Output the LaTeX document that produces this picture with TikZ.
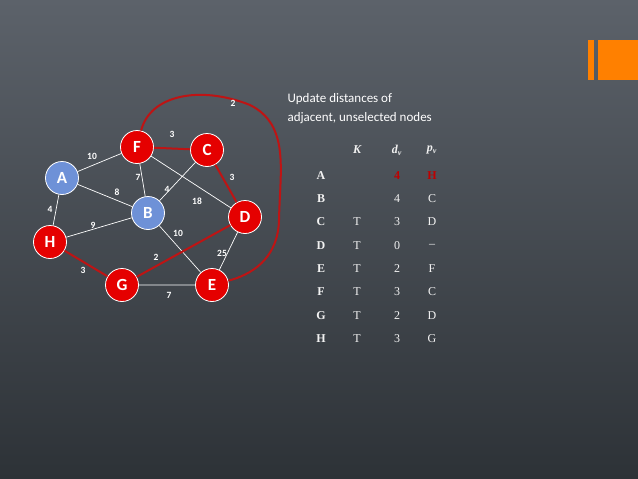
\documentclass[tikz,border=0pt]{standalone}
\usepackage{fontspec}
\setmainfont{Liberation Serif}
\newfontfamily\carl{Carlito}
\begin{document}
\begin{tikzpicture}[x=1pt,y=-1pt,
  vred/.style={circle,fill=red!90!black,draw=white,line width=0.8pt,minimum size=33pt,inner sep=0pt,font=\carl\bfseries\fontsize{17}{17}\selectfont,text=white},
  vblue/.style={vred,fill={rgb,255:red,110;green,145;blue,215}},
  wedge/.style={draw=white,line width=0.7pt},
  redge/.style={draw={rgb,255:red,190;green,20;blue,20},line width=2pt},
  lab/.style={font=\carl\bfseries\fontsize{9.5}{9.5}\selectfont,text=white},
  tb/.style={font=\fontsize{12}{12}\selectfont,text=white!95!black}]
\shade[top color={rgb,255:red,92;green,98;blue,106},bottom color={rgb,255:red,45;green,50;blue,55}] (0,0) rectangle (638,479);
\useasboundingbox (0,0) rectangle (638,479);
\fill[orange] (588,40) rectangle (594,80);
\fill[orange] (598,40) rectangle (638,80);
\node[vblue] (A) at (62,178) {A};
\node[vred] (F) at (137,147) {F};
\node[vred] (C) at (207,150) {C};
\node[vblue] (B) at (148,213) {B};
\node[vred] (D) at (245,217) {D};
\node[vred] (H) at (50,242) {H};
\node[vred] (G) at (122,285) {G};
\node[vred] (E) at (212,285) {E};
\path[wedge] (A)--(F) (A)--(B) (A)--(H) (F)--(B) (F)--(D) (C)--(B) (H)--(B) (B)--(E) (D)--(E) (G)--(E);
\path[redge] (F)--(C) (C)--(D) (H)--(G) (G)--(D);
\path[redge] (F) .. controls (150,95) and (200,85) .. (250,105) .. controls (290,125) and (280,170) .. (279,220) .. controls (278,260) and (250,275) .. (E);
\foreach \t/\x/\y in {2/233/103,10/92/156,3/172/134,7/138/177,8/117/192,4/167/189,3/232/177,18/197/201,4/50/209,9/93/225,10/178/233,2/156/257,25/222/253,3/83/270,7/169/295}
  \node[lab] at (\x,\y) {\t};
\node[anchor=west,text=white,font=\carl\fontsize{13}{13}\selectfont] (t1) at (284,99) {Update distances of};
\node[anchor=west,text=white,font=\carl\fontsize{13}{13}\selectfont] (t2) at (284,118) {adjacent, unselected nodes};
\node[tb,font=\bfseries\itshape\fontsize{12}{12}\selectfont] (hK) at (357,150) {K};
\node[tb,font=\bfseries\itshape\fontsize{12}{12}\selectfont] (hd) at (397,150) {d\textsubscript{v}};
\node[tb,font=\bfseries\itshape\fontsize{12}{12}\selectfont] (hp) at (432,150) {p\textsubscript{v}};
\foreach \n/\k/\d/\p/\y in {B//4/C/199,C/T/3/D/222,D/T/0/--/246,E/T/2/F/269,F/T/3/C/292,G/T/2/D/316,H/T/3/G/339}{
  \node[tb,font=\bfseries\fontsize{12}{12}\selectfont] at (321,\y) {\n};
  \node[tb] at (357,\y) {\k};
  \node[tb] at (397,\y) {\d};
  \node[tb] at (432,\y) {\p};}
\node[tb,font=\bfseries\fontsize{12}{12}\selectfont] at (321,176) {A};
\node[tb,text=red!75!black,font=\bfseries\fontsize{12}{12}\selectfont] at (397,176) {4};
\node[tb,text=red!75!black,font=\bfseries\fontsize{12}{12}\selectfont] at (432,176) {H};
\end{tikzpicture}
\end{document}
